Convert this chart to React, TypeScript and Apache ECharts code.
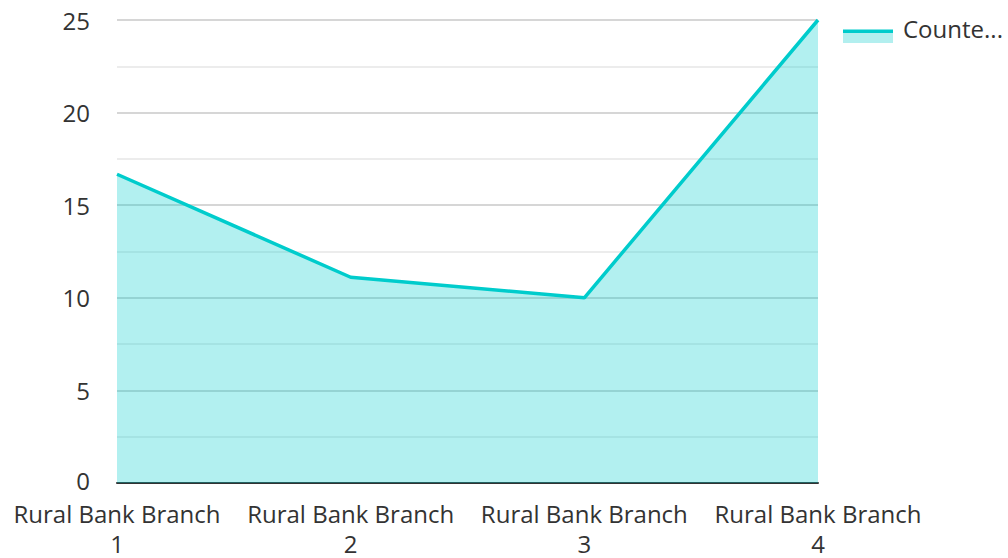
import React, { useEffect, useRef } from "react";
import * as echarts from "echarts";

const categories = ["Rural Bank Branch\n1", "Rural Bank Branch\n2", "Rural Bank Branch\n3", "Rural Bank Branch\n4"];
const seriesName = "Counte...";
const values = [16.67, 11.11, 10, 25];

export default function App() {
  const ref = useRef<HTMLDivElement>(null);
  useEffect(() => {
    const chart = echarts.init(ref.current!, null, { renderer: "svg" });
    chart.setOption({
      animation: false,
      textStyle: { fontFamily: "Open Sans" },
      grid: { left: 117, right: 190, top: 20, bottom: 71 },
      graphic: [
        { type: "rect", left: 843, top: 30, shape: { width: 50, height: 13 }, style: { fill: "#b2efef" }, silent: true },
        { type: "rect", left: 843, top: 29.5, shape: { width: 50, height: 3.5 }, style: { fill: "#00cccc" }, silent: true },
        {
          type: "text",
          left: 903,
          top: 16,
          style: { text: seriesName, fontSize: 24, fill: "#333", fontFamily: "Open Sans" },
        },
      ],
      xAxis: {
        type: "category",
        data: categories,
        boundaryGap: false,
        axisLine: { lineStyle: { color: "#333", width: 2 } },
        axisTick: { show: false },
        axisLabel: { fontSize: 24, color: "#333", lineHeight: 30, margin: 15, interval: 0 },
        splitLine: { show: false },
      },
      yAxis: {
        type: "value",
        min: 0,
        max: 25,
        interval: 5,
        axisLine: { show: false },
        axisTick: { show: false },
        axisLabel: {
          fontSize: 24,
          color: "#333",
          margin: 27,
          formatter: (v: number) => (v === 0 ? "{z|0}" : String(v)),
          rich: { z: { fontSize: 24, color: "#333", fontFamily: "Open Sans", padding: [0, 0, 6, 0] } },
        },
        splitLine: { lineStyle: { color: "#c8c8c8", width: 1.5 } },
        minorTick: { show: false, splitNumber: 2 },
        minorSplitLine: { show: true, lineStyle: { color: "#e6e6e6", width: 1.5 } },
      },
      series: [
        {
          name: seriesName,
          type: "line",
          data: values,
          symbol: "none",
          lineStyle: { color: "#00cccc", width: 3.5 },
          itemStyle: { color: "#00cccc" },
          areaStyle: { color: "rgba(0,204,204,0.3)", opacity: 1 },
          z: 1,
        },
      ],
    });
    return () => chart.dispose();
  }, []);
  return <div ref={ref} style={{ width: 1008, height: 558, position: "absolute", left: 0, top: 0 }} />;
}
